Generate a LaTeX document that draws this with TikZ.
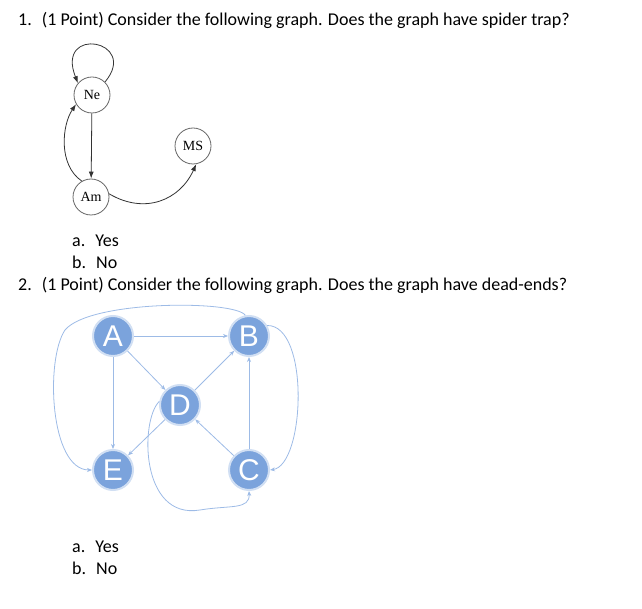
\documentclass[tikz,border=0pt]{standalone}
\usepackage{fontspec}
\setmainfont{Carlito}
\newfontfamily\tnr{Liberation Serif}
\newfontfamily\ars{Liberation Sans}
\usetikzlibrary{arrows.meta}
\definecolor{nodeblue}{HTML}{7BA3DC}
\definecolor{edgeblue}{HTML}{9DBBE6}
\begin{document}
\begin{tikzpicture}[x=1pt,y=-1pt,
 txt/.style={anchor=base west,inner sep=0pt,font=\fontsize{18}{20}\selectfont},
 gn/.style={circle,draw=black!60,thick,minimum size=36pt,inner sep=0pt,font=\tnr\fontsize{14}{15}\selectfont},
 ge/.style={draw=black!80,thick,-{Latex[length=7pt,width=5pt]}},
 bn/.style={circle,fill=nodeblue,draw=nodeblue!35,line width=2pt,minimum size=40pt,inner sep=0pt,text=white,font=\ars\fontsize{30}{30}\selectfont},
 be/.style={draw=edgeblue,line width=0.8pt,-{Stealth[length=5pt,width=4pt]}}]
\useasboundingbox (0,0) rectangle (642,609);
\node[txt] (q1) at (18,26) {1.\hspace{10pt}(1 Point) Consider the following graph. Does the graph have spider trap?};
\node[gn] (ne) at (92,95) {Ne};
\node[gn] (ms) at (193,146) {MS};
\node[gn] (am) at (91,197) {Am};
\draw[ge] (ne.45) .. controls (140,40) and (55,25) .. (ne.140);
\draw[ge] (ne) -- (am);
\draw[ge] (am.120) .. controls (58,165) and (62,125) .. (ne.210);
\draw[ge] (am.10) .. controls (145,215) and (180,200) .. (ms.-80);
\node[txt] (a1) at (72,247) {a.\hspace{10pt}Yes};
\node[txt] (b1) at (72,269) {b.\hspace{10pt}No};
\node[txt] (q2) at (18,291) {2.\hspace{10pt}(1 Point) Consider the following graph. Does the graph have dead-ends?};
\node[bn] (A) at (113,336) {A};
\node[bn] (B) at (249,336) {B};
\node[bn] (D) at (180,405) {D};
\node[bn] (E) at (113,470) {E};
\node[bn] (C) at (249,470) {C};
\draw[be] (A) -- (B);
\draw[be] (A) -- (D);
\draw[be] (A) -- (E);
\draw[be] (D) -- (B);
\draw[be] (D) -- (E);
\draw[be] (C) -- (D);
\draw[be] (C) -- (B);
\draw[be] (B.30) .. controls (310,325) and (305,465) .. (C.0);
\draw[be] (B.100) .. controls (235,300) and (90,300) .. (65,330) .. controls (45,360) and (50,470) .. (E.180);
\draw[be] (D.170) .. controls (140,420) and (140,520) .. (200,510) .. controls (230,505) and (250,510) .. (C.-90);
\node[txt] (a2) at (72,552) {a.\hspace{10pt}Yes};
\node[txt] (b2) at (72,574) {b.\hspace{10pt}No};
\end{tikzpicture}
\end{document}
